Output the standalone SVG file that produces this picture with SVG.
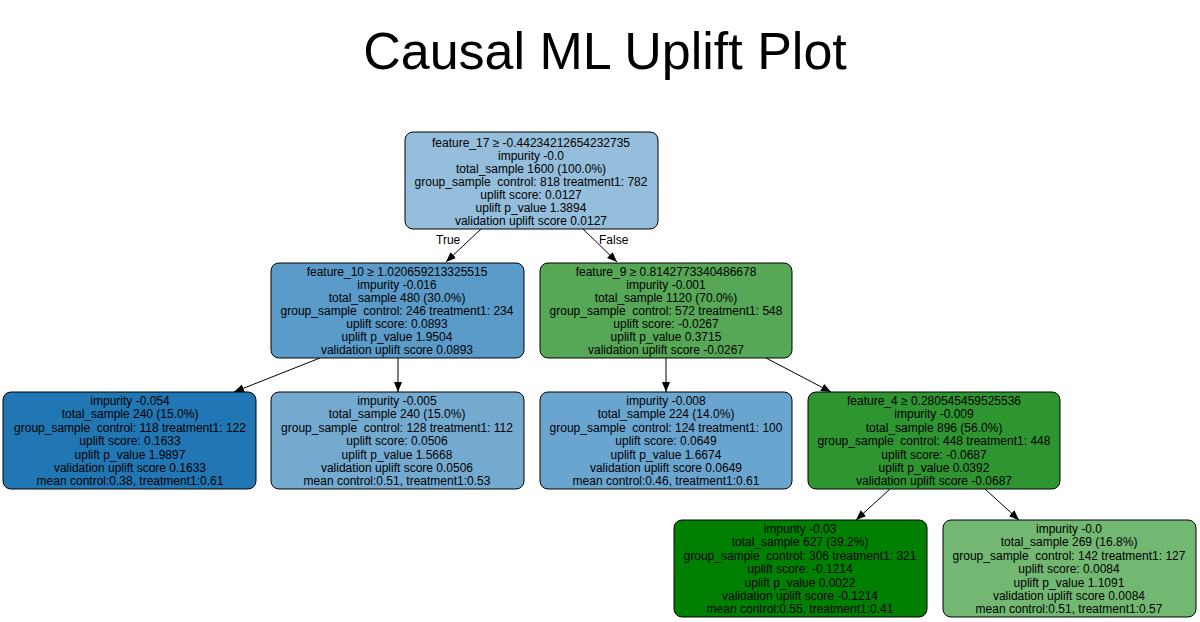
<svg xmlns="http://www.w3.org/2000/svg" width="1200" height="622" viewBox="0 0 1200 622">
<defs>
<marker id="ah" viewBox="0 0 10 10" refX="10" refY="5" markerWidth="10" markerHeight="10" markerUnits="userSpaceOnUse" orient="auto"><path d="M0,1 L10,5 L0,9 z" fill="#000"/></marker>
<style>
.n rect{stroke:#000;stroke-width:1}
.n text{font-family:"Liberation Sans",Arial,sans-serif;font-size:12px;text-anchor:middle;fill:#000;white-space:pre}
.e line{stroke:#000;stroke-width:1;marker-end:url(#ah)}
.lbl{font-family:"Liberation Sans",Arial,sans-serif;font-size:12px;fill:#000}
</style>
</defs>
<rect width="1200" height="622" fill="#fff"/>
<text x="605" y="69" font-family="Liberation Sans,Arial,sans-serif" font-size="52" text-anchor="middle">Causal ML Uplift Plot</text>
<g id="edges" class="e">
<line x1="481" y1="229" x2="446" y2="262"/>
<line x1="583" y1="229" x2="617" y2="262"/>
<line x1="320" y1="358" x2="234" y2="392"/>
<line x1="398" y1="358" x2="398" y2="392"/>
<line x1="666" y1="358" x2="666" y2="392"/>
<line x1="766" y1="358" x2="831" y2="392"/>
<line x1="890" y1="489" x2="856" y2="520"/>
<line x1="985" y1="489" x2="1019" y2="520"/>
<text class="lbl" x="436" y="244">True</text>
<text class="lbl" x="599" y="244">False</text>
</g>
<g id="root" class="n"><rect x="405" y="132" width="253" height="97" rx="8" fill="#94bedc"/>
<text x="531" y="147">feature_17 ≥ -0.44234212654232735</text><text x="531" y="160">impurity -0.0</text><text x="531" y="173">total_sample 1600 (100.0%)</text><text x="531" y="186">group_sample  control: 818 treatment1: 782</text><text x="531" y="199">uplift score: 0.0127</text><text x="531" y="212">uplift p_value 1.3894</text><text x="531" y="225">validation uplift score 0.0127</text></g>
<g id="n1" class="n"><rect x="271" y="263" width="253" height="95" rx="8" fill="#5a9bc9"/>
<text x="397" y="276">feature_10 ≥ 1.020659213325515</text><text x="397" y="289">impurity -0.016</text><text x="397" y="302">total_sample 480 (30.0%)</text><text x="397" y="315">group_sample  control: 246 treatment1: 234</text><text x="397" y="328">uplift score: 0.0893</text><text x="397" y="341">uplift p_value 1.9504</text><text x="397" y="354">validation uplift score 0.0893</text></g>
<g id="n2" class="n"><rect x="540" y="263" width="252" height="95" rx="8" fill="#56a857"/>
<text x="666" y="276">feature_9 ≥ 0.8142773340486678</text><text x="666" y="289">impurity -0.001</text><text x="666" y="302">total_sample 1120 (70.0%)</text><text x="666" y="315">group_sample  control: 572 treatment1: 548</text><text x="666" y="328">uplift score: -0.0267</text><text x="666" y="341">uplift p_value 0.3715</text><text x="666" y="354">validation uplift score -0.0267</text></g>
<g id="n3" class="n"><rect x="3" y="392" width="253" height="97" rx="8" fill="#2177b4"/>
<text x="130" y="405">impurity -0.054</text><text x="130" y="418">total_sample 240 (15.0%)</text><text x="130" y="432">group_sample  control: 118 treatment1: 122</text><text x="130" y="445">uplift score: 0.1633</text><text x="130" y="459">uplift p_value 1.9897</text><text x="130" y="472">validation uplift score 0.1633</text><text x="130" y="485">mean control:0.38, treatment1:0.61</text></g>
<g id="n4" class="n"><rect x="271" y="392" width="253" height="97" rx="8" fill="#74aad0"/>
<text x="397" y="405">impurity -0.005</text><text x="397" y="418">total_sample 240 (15.0%)</text><text x="397" y="432">group_sample  control: 128 treatment1: 112</text><text x="397" y="445">uplift score: 0.0506</text><text x="397" y="459">uplift p_value 1.5668</text><text x="397" y="472">validation uplift score 0.0506</text><text x="397" y="485">mean control:0.51, treatment1:0.53</text></g>
<g id="n5" class="n"><rect x="540" y="392" width="252" height="97" rx="8" fill="#6aa5d0"/>
<text x="666" y="405">impurity -0.008</text><text x="666" y="418">total_sample 224 (14.0%)</text><text x="666" y="432">group_sample  control: 124 treatment1: 100</text><text x="666" y="445">uplift score: 0.0649</text><text x="666" y="459">uplift p_value 1.6674</text><text x="666" y="472">validation uplift score 0.0649</text><text x="666" y="485">mean control:0.46, treatment1:0.61</text></g>
<g id="n6" class="n"><rect x="808" y="392" width="252" height="97" rx="8" fill="#2e9530"/>
<text x="934" y="405">feature_4 ≥ 0.280545459525536</text><text x="934" y="418">impurity -0.009</text><text x="934" y="432">total_sample 896 (56.0%)</text><text x="934" y="445">group_sample  control: 448 treatment1: 448</text><text x="934" y="459">uplift score: -0.0687</text><text x="934" y="472">uplift p_value 0.0392</text><text x="934" y="485">validation uplift score -0.0687</text></g>
<g id="n7" class="n"><rect x="674" y="520" width="253" height="97" rx="8" fill="#008000"/>
<text x="800" y="533">impurity -0.03</text><text x="800" y="546">total_sample 627 (39.2%)</text><text x="800" y="560">group_sample  control: 306 treatment1: 321</text><text x="800" y="573">uplift score: -0.1214</text><text x="800" y="587">uplift p_value 0.0022</text><text x="800" y="600">validation uplift score -0.1214</text><text x="800" y="613">mean control:0.55, treatment1:0.41</text></g>
<g id="n8" class="n"><rect x="943" y="520" width="253" height="97" rx="8" fill="#72b872"/>
<text x="1069" y="533">impurity -0.0</text><text x="1069" y="546">total_sample 269 (16.8%)</text><text x="1069" y="560">group_sample  control: 142 treatment1: 127</text><text x="1069" y="573">uplift score: 0.0084</text><text x="1069" y="587">uplift p_value 1.1091</text><text x="1069" y="600">validation uplift score 0.0084</text><text x="1069" y="613">mean control:0.51, treatment1:0.57</text></g>
</svg>
